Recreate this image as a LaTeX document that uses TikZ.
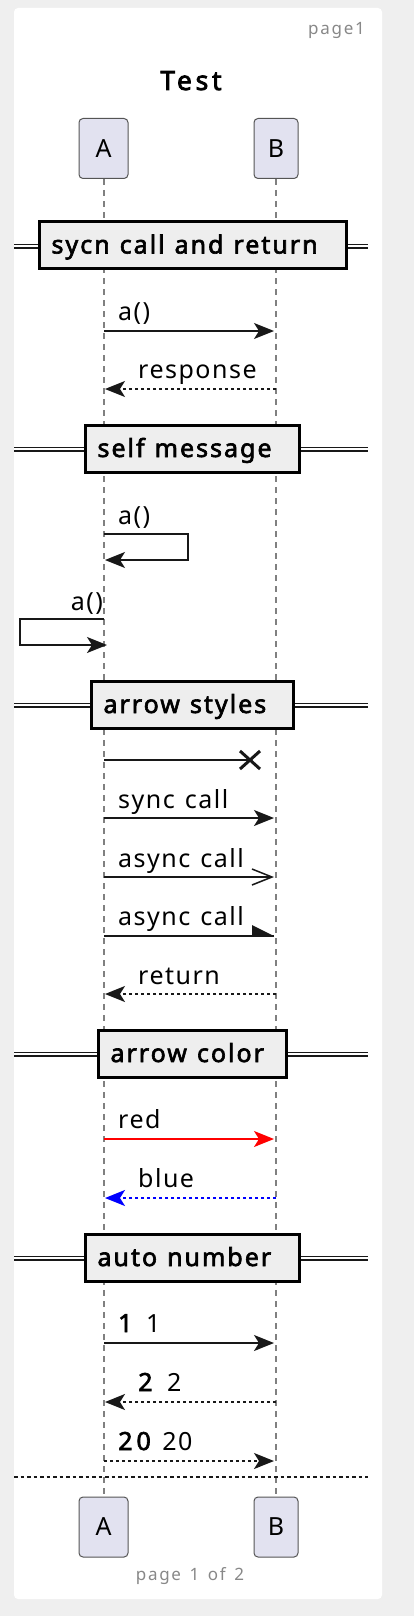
\documentclass[tikz,border=0pt]{standalone}
\usepackage{fontspec}
\setmainfont{Noto Sans}[AutoFakeBold=2.5]
\newfontfamily\msgfont{Noto Sans}[LetterSpace=6, WordSpace=1.25, AutoFakeBold=2.5]
\newfontfamily\divfont{Noto Sans}[LetterSpace=8, AutoFakeBold=2.5]
\newfontfamily\smallfont{Noto Sans}[LetterSpace=10, WordSpace=1.4]
\newfontfamily\titlefont{Noto Sans}[LetterSpace=14, AutoFakeBold=3]
\newcommand{\divsp}{\spaceskip=10pt\relax}
\usetikzlibrary{arrows.meta}
\definecolor{bg}{HTML}{EFEFEF}
\definecolor{partfill}{HTML}{E2E2F0}
\definecolor{partdraw}{HTML}{555555}
\definecolor{ink}{HTML}{181818}
\definecolor{lifegray}{HTML}{808080}
\definecolor{divfill}{HTML}{EEEEEE}
\definecolor{pagegray}{HTML}{888888}
\definecolor{msgred}{HTML}{FF0000}
\definecolor{msgblue}{HTML}{0000FF}
\tikzset{
  part/.style={draw=partdraw, fill=partfill, rounded corners=4pt, line width=1pt,
    minimum height=60pt, inner sep=0pt, font=\msgfont\fontsize{25}{30}\selectfont},
  lifeline/.style={draw=lifegray, line width=1.2pt, dash pattern=on 6pt off 5pt},
  divbox/.style={draw=black, fill=divfill, line width=3pt, minimum height=47pt,
    inner xsep=12pt, inner ysep=0pt, align=left, anchor=west, text height=17pt, text depth=0pt,
    font=\divfont\bfseries\fontsize{25}{28}\selectfont},
  divline/.style={draw=ink, line width=1.5pt},
  msg/.style={draw=ink, line width=1.5pt},
  ret/.style={msg, dash pattern=on 3pt off 3pt},
  headsync/.style={-{Stealth[length=20pt,width=16pt,inset=5pt]}},
  headopen/.style={-{Straight Barb[length=20pt,width=16pt,line width=1.5pt]}},
  lbl/.style={anchor=base west, inner sep=0pt, text=black, font=\msgfont\fontsize{25}{30}\selectfont},
  lblr/.style={lbl, anchor=base east},
  pagetxt/.style={inner sep=0pt, text=pagegray, font=\smallfont\fontsize{17}{20}\selectfont},
}
\begin{document}
\begin{tikzpicture}[x=1pt, y=-1pt]
\useasboundingbox (0,0) rectangle (414,1616);
\fill[bg] (0,0) rectangle (414,1616);
\fill[white, rounded corners=4pt] (14,8) rectangle (382,1599);

% header texts
\node[pagetxt, anchor=base east] (pg) at (365,35) {page1};
\node[anchor=base, inner sep=0pt, font=\titlefont\bfseries\fontsize{26.5}{30}\selectfont] (title) at (191,90) {Test};

% lifelines
\coordinate (Atop) at (104,179);
\coordinate (Abot) at (104,1497);
\coordinate (Btop) at (276,179);
\coordinate (Bbot) at (276,1497);
\draw[lifeline] (Atop) -- (Abot);
\draw[lifeline] (Btop) -- (Bbot);

% participants
\node[part, minimum width=49pt] (A) at (103.5,148.5) {A};
\node[part, minimum width=44pt] (B) at (276,148.5) {B};
\node[part, minimum width=49pt] (A2) at (103.5,1527) {A};
\node[part, minimum width=44pt] (B2) at (276,1527) {B};

% ---------- divider 1
\coordinate (d1l) at (14,244.5); \coordinate (d1r) at (368,244.5);
\coordinate (d1l2) at (14,248); \coordinate (d1r2) at (368,248);
\draw[divline] (d1l) -- (d1r);
\draw[divline] (d1l2) -- (d1r2);
\node[divbox, text width=283pt] (div1) at (38,245) {\divsp sycn call and return};

\coordinate (m1a) at (104,331); \coordinate (m1b) at (274,331);
\draw[msg, headsync] (m1a) -- (m1b);
\node[lbl] (l1) at (118,320) {a()};

\coordinate (m2a) at (276,389); \coordinate (m2b) at (105,389);
\draw[ret, headsync] (m2a) -- (m2b);
\node[lbl] (l2) at (138,378) {response};

% ---------- divider 2
\coordinate (d2l) at (14,447.5); \coordinate (d2r) at (368,447.5);
\coordinate (d2l2) at (14,451); \coordinate (d2r2) at (368,451);
\draw[divline] (d2l) -- (d2r);
\draw[divline] (d2l2) -- (d2r2);
\node[divbox, text width=190pt] (div2) at (84,448.5) {\divsp self message};

\coordinate (s1a) at (104,534); \coordinate (s1c) at (188,534);
\coordinate (s1d) at (188,560); \coordinate (s1b) at (105,560);
\draw[msg, headsync] (s1a) -- (s1c) -- (s1d) -- (s1b);
\node[lbl] (l3) at (118,524) {a()};

\coordinate (s2a) at (104,619); \coordinate (s2c) at (20,619);
\coordinate (s2d) at (20,645); \coordinate (s2b) at (107,645);
\draw[msg, headsync] (s2a) -- (s2c) -- (s2d) -- (s2b);
\node[lblr] (l4) at (103,610) {a()};

% ---------- divider 3
\coordinate (d3l) at (14,703.5); \coordinate (d3r) at (368,703.5);
\coordinate (d3l2) at (14,707); \coordinate (d3r2) at (368,707);
\draw[divline] (d3l) -- (d3r);
\draw[divline] (d3l2) -- (d3r2);
\node[divbox, text width=178pt] (div3) at (90,704.5) {\divsp arrow styles};

\coordinate (x1a) at (104,760); \coordinate (x1b) at (250,760);
\draw[msg] (x1a) -- (x1b);
\draw[ink, line width=3pt] ([shift={(-10,-9)}]x1b) -- ([shift={(10,9)}]x1b);
\draw[ink, line width=3pt] ([shift={(-10,9)}]x1b) -- ([shift={(10,-9)}]x1b);

\coordinate (m5a) at (104,818); \coordinate (m5b) at (274,818);
\draw[msg, headsync] (m5a) -- (m5b);
\node[lbl] (l5) at (118,808) {sync call};

\coordinate (m6a) at (104,877); \coordinate (m6b) at (274,877);
\draw[msg, headopen] (m6a) -- (m6b);
\node[lbl] (l6) at (118,867) {async call};

\coordinate (m7a) at (104,936); \coordinate (m7b) at (274,936);
\draw[msg] (m7a) -- (m7b);
\fill[ink] (m7b) -- ([shift={(-22,-11)}]m7b) -- ([shift={(-22,0)}]m7b) -- cycle;
\node[lbl] (l7) at (118,925) {async call};

\coordinate (m8a) at (276,994); \coordinate (m8b) at (105,994);
\draw[ret, headsync] (m8a) -- (m8b);
\node[lbl] (l8) at (138,984) {return};

% ---------- divider 4
\coordinate (d4l) at (14,1052.5); \coordinate (d4r) at (368,1052.5);
\coordinate (d4l2) at (14,1056); \coordinate (d4r2) at (368,1056);
\draw[divline] (d4l) -- (d4r);
\draw[divline] (d4l2) -- (d4r2);
\node[divbox, text width=164pt] (div4) at (97,1053.5) {\divsp arrow color};

\coordinate (m9a) at (104,1139); \coordinate (m9b) at (274,1139);
\draw[msg, draw=msgred, headsync, msgred] (m9a) -- (m9b);
\node[lbl] (l9) at (118,1128) {red};

\coordinate (m10a) at (276,1198); \coordinate (m10b) at (105,1198);
\draw[ret, draw=msgblue, headsync, msgblue] (m10a) -- (m10b);
\node[lbl] (l10) at (138,1187) {blue};

% ---------- divider 5
\coordinate (d5l) at (14,1256.5); \coordinate (d5r) at (368,1256.5);
\coordinate (d5l2) at (14,1260); \coordinate (d5r2) at (368,1260);
\draw[divline] (d5l) -- (d5r);
\draw[divline] (d5l2) -- (d5r2);
\node[divbox, text width=190pt] (div5) at (84,1257.5) {\divsp auto number};

\coordinate (n1a) at (104,1343); \coordinate (n1b) at (274,1343);
\draw[msg, headsync] (n1a) -- (n1b);
\node[lbl] (l11) at (118,1332) {\textbf{1}\hspace{12pt}1};

\coordinate (n2a) at (276,1402); \coordinate (n2b) at (105,1402);
\draw[ret, headsync] (n2a) -- (n2b);
\node[lbl] (l12) at (138,1391) {\textbf{2}\hspace{13pt}2};

\coordinate (n3a) at (104,1461); \coordinate (n3b) at (274,1461);
\draw[ret, headsync] (n3a) -- (n3b);
\node[lbl] (l13) at (118,1450) {\textbf{2}\hspace{2.5pt}\textbf{0}\hspace{10pt}20};

% separator
\coordinate (sepl) at (14,1477); \coordinate (sepr) at (368,1477);
\draw[ink, line width=1.5pt, dash pattern=on 3.5pt off 3pt] (sepl) -- (sepr);

% footer
\node[pagetxt, anchor=base] (foot) at (190,1580) {page 1 of 2};
\end{tikzpicture}
\end{document}
